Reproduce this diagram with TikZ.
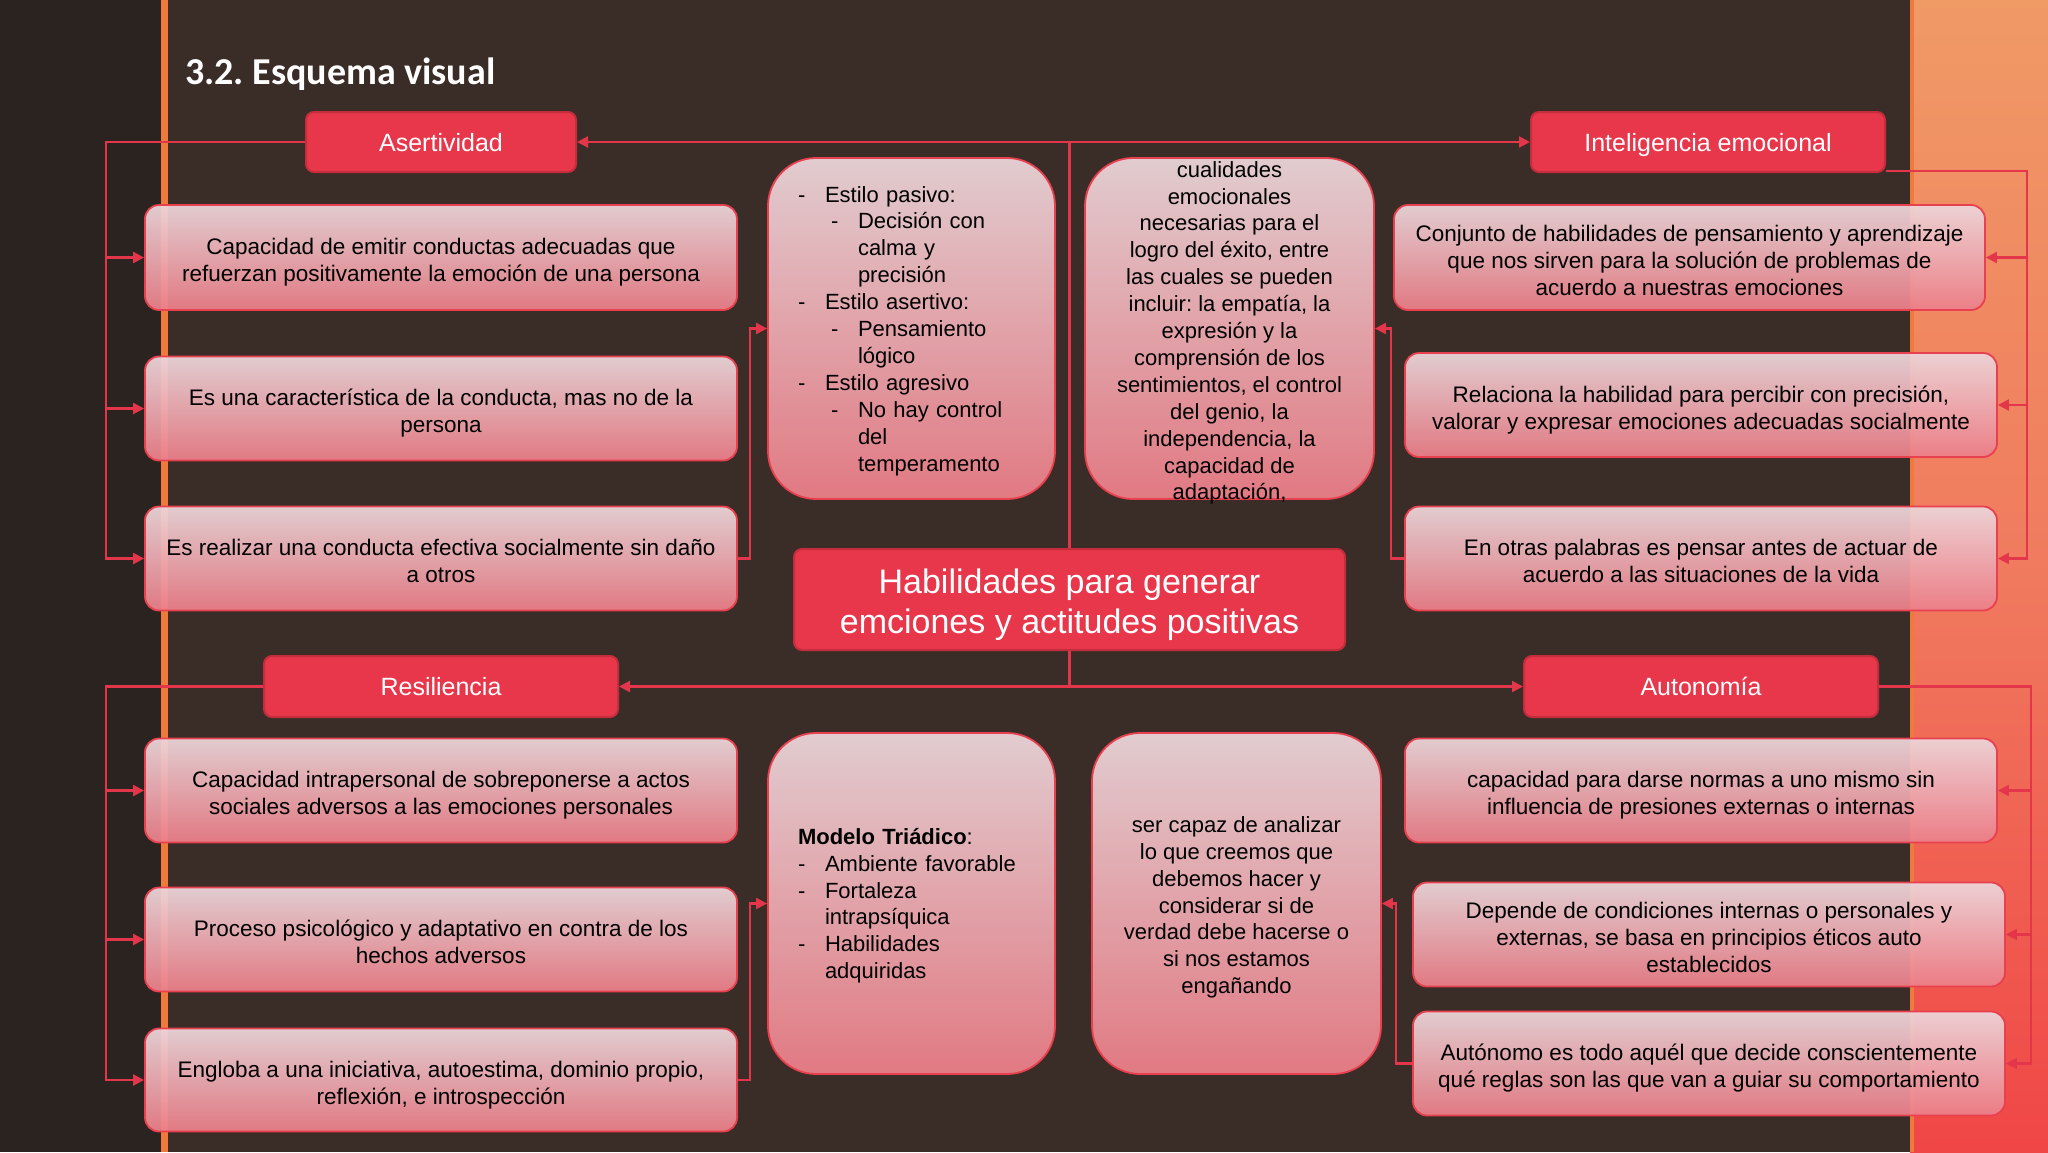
\documentclass[tikz,border=0pt]{standalone}
\usepackage{fontspec}
\setmainfont{Liberation Sans}
\newfontfamily\titlefont{Carlito}
\usetikzlibrary{arrows.meta,calc}
\definecolor{bgmain}{HTML}{3A2C26}
\definecolor{bgleft}{HTML}{2B231F}
\definecolor{orangeline}{HTML}{F07A3C}
\definecolor{hdrred}{HTML}{E8364A}
\definecolor{hdrborder}{HTML}{C42D3C}
\definecolor{linkred}{HTML}{E4364A}
\definecolor{boxtop}{HTML}{ECD6DA}
\definecolor{boxbot}{HTML}{EC7F89}
\definecolor{boxborder}{HTML}{E8404F}
\definecolor{stripTop}{HTML}{F09A66}
\definecolor{stripMid}{HTML}{F07A5E}
\definecolor{stripBot}{HTML}{F04646}
\newcommand{\botstrut}{\rule[-5pt]{0pt}{5pt}}
\begin{document}
\frenchspacing
\begin{tikzpicture}[x=1pt,y=-1pt,
  hdr/.style={rounded corners=8pt, draw=hdrborder, line width=2pt, fill=hdrred,
    text=white, font=\fontsize{25}{30}\selectfont, align=center, inner sep=0pt,
    text height=18pt, text depth=0pt},
  boxbase/.style={draw=boxborder, line width=1.8pt,
    top color=boxtop, bottom color=boxbot, fill opacity=0.94, text opacity=1,
    text=black, inner sep=0pt, execute at end node=\botstrut},
  cbox/.style={boxbase, rounded corners=14pt, align=flush center, text width=580pt,
    font=\fontsize{22.5}{27}\selectfont,
    execute at begin node={\rule{0pt}{26pt}}},
  midbox/.style={boxbase, rounded corners=48pt, font=\fontsize{22}{26.9}\selectfont,
    minimum width=287pt, minimum height=341pt},
  link/.style={draw=linkred, line width=2.2pt},
  arr/.style={link, -{Triangle[length=11pt,width=11pt]}}]
\useasboundingbox (0,0) rectangle (2048,1152);
% background
\fill[bgmain] (0,0) rectangle (2048,1152);
\fill[bgleft] (0,0) rectangle (161,1152);
\fill[orangeline] (161,0) rectangle (168,1152);
\shade[top color=stripTop, bottom color=stripMid] (1910,0) rectangle (2048,576);
\shade[top color=stripMid, bottom color=stripBot] (1910,576) rectangle (2048,1152);
\fill[orangeline] (1910,0) rectangle (1914,1152);

% title
\node[anchor=base west, text=white, font=\titlefont\bfseries\fontsize{38}{44}\selectfont, inner sep=0pt] (title) at (185,84) {3.2. Esquema visual};

% headers
\node[hdr, minimum width=270pt, minimum height=60pt] (aser) at (441,142) {Asertividad};
\node[hdr, minimum width=354pt, minimum height=60pt] (ie) at (1708,142) {Inteligencia emocional};
\node[hdr, minimum width=354pt, minimum height=61pt] (res) at (441,686.5) {Resiliencia};
\node[hdr, minimum width=354pt, minimum height=61pt] (auto) at (1701,686.5) {Autonomía};
\node[hdr, minimum width=551pt, minimum height=101pt, font=\fontsize{34}{40.5}\selectfont,
  align=flush center, text width=540pt, text height=, text depth=, execute at begin node={\rule{0pt}{35pt}},
  execute at end node={\rule[-7pt]{0pt}{7pt}}] (central) at (1069.5,599.5) {Habilidades para generar\\emciones y actitudes positivas};

% left content boxes
\node[cbox, minimum width=592pt, minimum height=105pt] (a1) at (441,257.5) {Capacidad de emitir conductas adecuadas que\\refuerzan positivamente la emoción de una persona};
\node[cbox, minimum width=592pt, minimum height=104pt] (a2) at (441,408.5) {Es una característica de la conducta, mas no de la\\persona};
\node[cbox, minimum width=592pt, minimum height=104pt] (a3) at (441,558.5) {Es realizar una conducta efectiva socialmente sin daño\\a otros};
\node[cbox, minimum width=592pt, minimum height=104pt] (r1) at (441,790.5) {Capacidad intrapersonal de sobreponerse a actos\\sociales adversos a las emociones personales};
\node[cbox, minimum width=592pt, minimum height=104pt] (r2) at (441,939.5) {Proceso psicológico y adaptativo en contra de los\\hechos adversos};
\node[cbox, minimum width=592pt, minimum height=103pt] (r3) at (441,1080) {Engloba a una iniciativa, autoestima, dominio propio,\\reflexión, e introspección};

% right content boxes
\node[cbox, minimum width=591pt, minimum height=105pt] (ie1) at (1689.5,257.5) {Conjunto de habilidades de pensamiento y aprendizaje\\que nos sirven para la solución de problemas de\\acuerdo a nuestras emociones};
\node[cbox, minimum width=592pt, minimum height=104pt] (ie2) at (1701,405) {Relaciona la habilidad para percibir con precisión,\\valorar y expresar emociones adecuadas socialmente};
\node[cbox, minimum width=592pt, minimum height=104pt] (ie3) at (1701,558.5) {En otras palabras es pensar antes de actuar de\\acuerdo a las situaciones de la vida};
\node[cbox, minimum width=592pt, minimum height=104pt] (au1) at (1701,790.5) {capacidad para darse normas a uno mismo sin\\influencia de presiones externas o internas};
\node[cbox, minimum width=592pt, minimum height=104pt] (au2) at (1709,934.5) {Depende de condiciones internas o personales y\\externas, se basa en principios éticos auto\\establecidos};
\node[cbox, minimum width=592pt, minimum height=104pt] (au3) at (1709,1063.5) {Autónomo es todo aquél que decide conscientemente\\qué reglas son las que van a guiar su comportamiento};

% middle boxes
\node[midbox, text width=227pt, align=left, inner xsep=30pt,
  execute at begin node={\rule{0pt}{21pt}}] (estilo) at (911.5,328.5) {%
\makebox[27pt][l]{-}Estilo pasivo:\\
\hspace*{33pt}\makebox[27pt][l]{-}Decisión con\\
\hspace*{60pt}calma y\\
\hspace*{60pt}precisión\\
\makebox[27pt][l]{-}Estilo asertivo:\\
\hspace*{33pt}\makebox[27pt][l]{-}Pensamiento\\
\hspace*{60pt}lógico\\
\makebox[27pt][l]{-}Estilo agresivo\\
\hspace*{33pt}\makebox[27pt][l]{-}No hay control\\
\hspace*{60pt}del\\
\hspace*{60pt}temperamento};
\node[midbox, minimum width=289pt, text width=280pt, align=flush center, inner ysep=-10pt,
  execute at begin node={\rule{0pt}{25pt}}] (cual) at (1229.5,328.5) {cualidades\\emocionales\\necesarias para el\\logro del éxito, entre\\las cuales se pueden\\incluir: la empatía, la\\expresión y la\\comprensión de los\\sentimientos, el control\\del genio, la\\independencia, la\\capacidad de\\adaptación,};
\node[midbox, text width=227pt, align=left, inner xsep=30pt,
  execute at begin node={\rule{0pt}{21pt}}] (modelo) at (911.5,903.5) {%
\textbf{Modelo Triádico}:\\
\makebox[27pt][l]{-}Ambiente favorable\\
\makebox[27pt][l]{-}Fortaleza\\
\hspace*{27pt}intrapsíquica\\
\makebox[27pt][l]{-}Habilidades\\
\hspace*{27pt}adquiridas};
\node[midbox, minimum width=289pt, text width=280pt, align=flush center,
  execute at begin node={\rule{0pt}{24pt}}] (ser) at (1236.5,903.5) {ser capaz de analizar\\lo que creemos que\\debemos hacer y\\considerar si de\\verdad debe hacerse o\\si nos estamos\\engañando};

% connectors: center
\coordinate (topj) at (central.north |- aser.east);
\coordinate (botj) at (central.south |- res.east);
\draw[link] (central.north) -- (topj);
\draw[arr] (topj) -- (aser.east);
\draw[arr] (topj) -- (ie.west);
\draw[link] (central.south) -- (botj);
\draw[arr] (botj) -- (res.east);
\draw[arr] (botj) -- (auto.west);

% Asertividad branch
\coordinate (aL) at (106,0);
\draw[arr] (aser.west) -| (aL |- a3.west) -- (a3.west);
\draw[arr] (aL |- a1.west) -- (a1.west);
\draw[arr] (aL |- a2.west) -- (a2.west);
\draw[arr] (a3.east) -| ($(estilo.west)+(-17,0)$) -- (estilo.west);

% Resiliencia branch
\draw[arr] (res.west) -| (aL |- r3.west) -- (r3.west);
\draw[arr] (aL |- r1.west) -- (r1.west);
\draw[arr] (aL |- r2.west) -- (r2.west);
\draw[arr] (r3.east) -| ($(modelo.west)+(-17,0)$) -- (modelo.west);

% Inteligencia emocional branch
\coordinate (ieR) at (2027,0);
\coordinate (ieout) at ($(ie.south east)+(0,-2)$);
\draw[arr] (ieout) -| (ieR |- ie3.east) -- (ie3.east);
\draw[arr] (ieR |- ie1.east) -- (ie1.east);
\draw[arr] (ieR |- ie2.east) -- (ie2.east);
\draw[arr] (ie3.west) -| ($(cual.east)+(16,0)$) -- (cual.east);

% Autonomia branch
\coordinate (auR) at (2031,0);
\draw[arr] (auto.east) -| (auR |- au3.east) -- (au3.east);
\draw[arr] (auR |- au1.east) -- (au1.east);
\draw[arr] (auR |- au2.east) -- (au2.east);
\draw[arr] (au3.west) -| ($(ser.east)+(14,0)$) -- (ser.east);
\end{tikzpicture}
\end{document}
